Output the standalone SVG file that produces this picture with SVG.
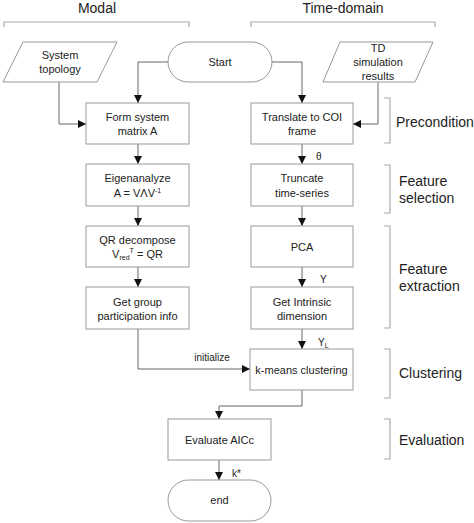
<svg xmlns="http://www.w3.org/2000/svg" width="474" height="523" viewBox="0 0 474 523">
<defs>
<marker id="ah" viewBox="0 0 8 8" refX="8" refY="4" markerWidth="8" markerHeight="8" markerUnits="userSpaceOnUse" orient="auto">
<path d="M0,0 L8,4 L0,8 Z" fill="#111"/>
</marker>
</defs>
<style>
.box{fill:#fff;stroke:#999;stroke-width:1}
.t{font-family:"Liberation Sans",Arial,sans-serif;font-size:11px;fill:#222;text-anchor:middle}
.lab{font-family:"Liberation Sans",Arial,sans-serif;font-size:14px;fill:#222}
.ttl{font-family:"Liberation Sans",Arial,sans-serif;font-size:14px;fill:#222;text-anchor:middle}
.br{fill:none;stroke:#aaa;stroke-width:1.2}
.c{fill:none;stroke:#666;stroke-width:1;marker-end:url(#ah)}
.cl{font-family:"Liberation Sans",Arial,sans-serif;font-size:10px;fill:#222}
</style>
<rect width="474" height="523" fill="#fff"/>
<g id="titles">
<text class="ttl" x="97" y="13">Modal</text>
<text class="ttl" x="343" y="13">Time-domain</text>
<path class="br" d="M4,27 V22 H189 V27"/>
<path class="br" d="M251,27 V22 H435 V27"/>
</g>
<g id="stages">
<path class="br" d="M384,98 H390 V143 H384"/>
<text class="lab" x="396" y="127" font-size="12.6">Precondition</text>
<path class="br" d="M384,165 H390 V213 H384"/>
<text class="lab" x="399" y="186">Feature</text>
<text class="lab" x="399" y="203">selection</text>
<path class="br" d="M384,226 H390 V328 H384"/>
<text class="lab" x="399" y="274">Feature</text>
<text class="lab" x="399" y="291">extraction</text>
<path class="br" d="M384,349 H390 V398 H384"/>
<text class="lab" x="399" y="378">Clustering</text>
<path class="br" d="M384,419 H390 V459 H384"/>
<text class="lab" x="399" y="445">Evaluation</text>
</g>
<g id="connectors">
<path class="c" d="M168,62 H138 V103"/>
<path class="c" d="M272,62 H302 V103"/>
<path class="c" d="M59,82 V124 H86"/>
<path class="c" d="M378,82 V124 H353"/>
<path class="c" d="M138,144 V164"/>
<path class="c" d="M138,206 V226"/>
<path class="c" d="M138,267 V287"/>
<path class="c" d="M138,329 V369 H250"/>
<path class="c" d="M302,144 V164"/>
<path class="c" d="M302,206 V226"/>
<path class="c" d="M302,267 V287"/>
<path class="c" d="M302,329 V349"/>
<path class="c" d="M302,390 V406 H219 V419"/>
<path class="c" d="M219,460 V480"/>
<text class="cl" x="212" y="361" text-anchor="middle">initialize</text>
<text class="cl" x="316" y="160">θ</text>
<text class="cl" x="320" y="283">Y</text>
<text class="cl" x="318" y="346">Y<tspan font-size="7" dy="2">L</tspan></text>
<text class="cl" x="232" y="477">k*</text>
</g>
<g id="start">
<rect class="box" x="168" y="42" width="104" height="40" rx="20"/>
<text class="t" x="220" y="66">Start</text>
</g>
<g id="sys-topology">
<polygon class="box" points="23,42 117,42 97,82 3,82"/>
<text class="t" x="60" y="59">System</text>
<text class="t" x="60" y="73">topology</text>
</g>
<g id="td-results">
<polygon class="box" points="340,42 433,42 415,82 323,82"/>
<text class="t" x="378" y="52">TD</text>
<text class="t" x="378" y="66">simulation</text>
<text class="t" x="378" y="80">results</text>
</g>
<g id="form-matrix">
<rect class="box" x="86" y="103" width="103" height="41"/>
<text class="t" x="137.5" y="121">Form system</text>
<text class="t" x="137.5" y="135">matrix A</text>
</g>
<g id="eigen">
<rect class="box" x="86" y="164" width="103" height="42"/>
<text class="t" x="137.5" y="182">Eigenanalyze</text>
<text class="t" x="137.5" y="197">A = VΛV<tspan font-size="7" dy="-4">-1</tspan></text>
</g>
<g id="qr">
<rect class="box" x="86" y="226" width="103" height="41"/>
<text class="t" x="137.5" y="244">QR decompose</text>
<text class="t" x="137.5" y="258">V<tspan font-size="7" dy="2">red</tspan><tspan font-size="7" dy="-7">T</tspan><tspan dy="5"> = QR</tspan></text>
</g>
<g id="group-info">
<rect class="box" x="86" y="287" width="103" height="42"/>
<text class="t" x="137.5" y="306">Get group</text>
<text class="t" x="137.5" y="320">participation info</text>
</g>
<g id="translate">
<rect class="box" x="251" y="103" width="102" height="41"/>
<text class="t" x="302" y="121">Translate to COI</text>
<text class="t" x="302" y="135">frame</text>
</g>
<g id="truncate">
<rect class="box" x="251" y="164" width="102" height="42"/>
<text class="t" x="302" y="182">Truncate</text>
<text class="t" x="302" y="197">time-series</text>
</g>
<g id="pca">
<rect class="box" x="251" y="226" width="102" height="41"/>
<text class="t" x="302" y="251">PCA</text>
</g>
<g id="intrinsic">
<rect class="box" x="251" y="287" width="102" height="42"/>
<text class="t" x="302" y="306">Get Intrinsic</text>
<text class="t" x="302" y="320">dimension</text>
</g>
<g id="kmeans">
<rect class="box" x="250" y="349" width="103" height="41"/>
<text class="t" x="301.5" y="374">k-means clustering</text>
</g>
<g id="evaluate">
<rect class="box" x="168" y="419" width="103" height="41"/>
<text class="t" x="219.5" y="444">Evaluate AICc</text>
</g>
<g id="end">
<rect class="box" x="168" y="480" width="103" height="41" rx="20.5"/>
<text class="t" x="219.5" y="504">end</text>
</g>
</svg>
